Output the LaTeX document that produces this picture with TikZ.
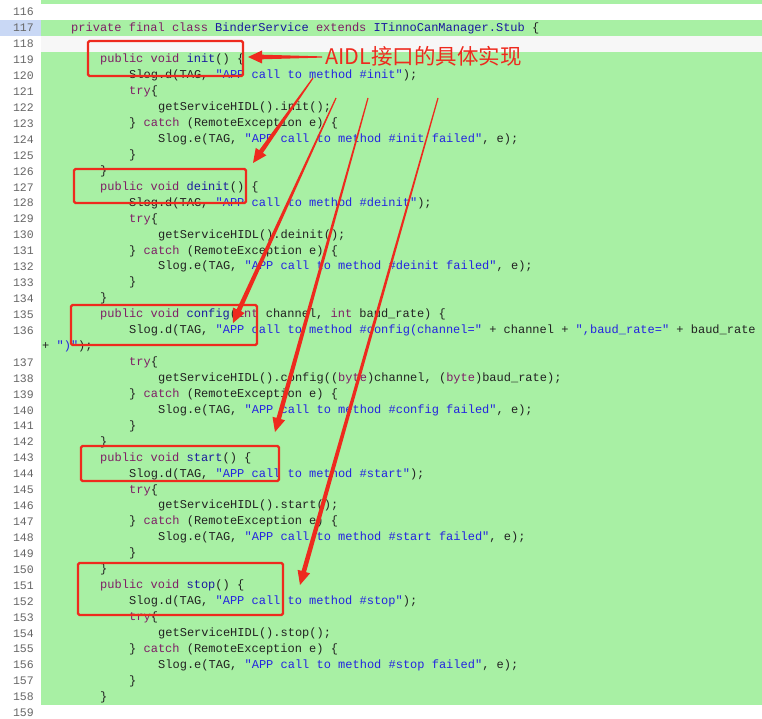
\documentclass[tikz,border=0pt]{standalone}
\usepackage{fontspec}
\setmonofont{Liberation Mono}
\newfontfamily\cjk{Noto Sans CJK SC}
\usetikzlibrary{calc}
\definecolor{kwc}{HTML}{7F1F66}
\definecolor{nmc}{HTML}{1A1A9E}
\definecolor{stc}{HTML}{2424E0}
\definecolor{txc}{HTML}{222222}
\definecolor{grn}{HTML}{A8F0A4}
\definecolor{lnc}{HTML}{666666}
\definecolor{hl}{HTML}{C9D8F5}
\definecolor{rd}{HTML}{EE2A1E}
\newcommand\kw[1]{\textcolor{kwc}{#1}}
\newcommand\nm[1]{\textcolor{nmc}{#1}}
\newcommand\st[1]{\textcolor{stc}{#1}}
\newcommand\rowy[1]{12+#1*15.93}
\tikzset{
 code/.style={anchor=west,inner sep=0pt,font=\ttfamily\fontsize{12}{14}\selectfont,text=txc},
 lnum/.style={anchor=east,inner sep=0pt,font=\ttfamily\fontsize{11.5}{14}\selectfont,text=lnc},
 box/.style={draw=rd,line width=2.2pt,rounded corners=1.5pt},
 arr/.style={fill=rd}
}
% \cl{name}{row}{indent}{text}
\newcommand\cl[4]{\node[code] (c#1) at ({42+#3*7.25},{\rowy{#2}}) {#4};}
\newcommand\lno[2]{\node[lnum] (n#1) at (34,{\rowy{#2}}) {#1};}
\newcommand\taper[2]{%
 \coordinate (tc) at ($(#2)!14pt!(#1)$);
 \fill[arr] ($(#1)!0.6pt!90:(#2)$) -- ($(#1)!0.6pt!-90:(#2)$) -- ($(tc)!2.3pt!-90:(#2)$) -- ($(tc)!6.5pt!-90:(#2)$) -- (#2) -- ($(tc)!6.5pt!90:(#2)$) -- ($(tc)!2.3pt!90:(#2)$) -- cycle;}
\begin{document}
\begin{tikzpicture}[x=1pt,y=-1pt]
\useasboundingbox (0,0) rectangle (762,719);
\fill[white] (0,0) rectangle (762,719);
\fill[grn] (41,0) rectangle (762,4);
\fill[grn] (41,{\rowy{1}-8}) rectangle (762,{\rowy{1}+8});
\fill[hl] (0,{\rowy{1}-8}) rectangle (41,{\rowy{1}+8});
\fill[black!3] (41,{\rowy{2}-8}) rectangle (762,{\rowy{2}+8});
\fill[grn] (41,{\rowy{3}-8}) rectangle (762,{\rowy{43}+8});
% line numbers
\foreach \n in {116,...,136} {\pgfmathtruncatemacro\r{\n-116}\lno{\n}{\r}}
\foreach \n in {137,...,159} {\pgfmathtruncatemacro\r{\n-115}\lno{\n}{\r}}
% code
\cl{117}{1}{4}{\kw{private final class} \nm{BinderService} \kw{extends} \nm{ITinnoCanManager.Stub} \{}
\cl{119}{3}{8}{\kw{public void} \nm{init}() \{}
\cl{120}{4}{12}{Slog.d(TAG, \st{"APP call to method \#init"});}
\cl{121}{5}{12}{\kw{try}\{}
\cl{122}{6}{16}{getServiceHIDL().init();}
\cl{123}{7}{12}{\} \kw{catch} (RemoteException e) \{}
\cl{124}{8}{16}{Slog.e(TAG, \st{"APP call to method \#init failed"}, e);}
\cl{125}{9}{12}{\}}
\cl{126}{10}{8}{\}}
\cl{127}{11}{8}{\kw{public void} \nm{deinit}() \{}
\cl{128}{12}{12}{Slog.d(TAG, \st{"APP call to method \#deinit"});}
\cl{129}{13}{12}{\kw{try}\{}
\cl{130}{14}{16}{getServiceHIDL().deinit();}
\cl{131}{15}{12}{\} \kw{catch} (RemoteException e) \{}
\cl{132}{16}{16}{Slog.e(TAG, \st{"APP call to method \#deinit failed"}, e);}
\cl{133}{17}{12}{\}}
\cl{134}{18}{8}{\}}
\cl{135}{19}{8}{\kw{public void} \nm{config}(\kw{int} channel, \kw{int} baud\_rate) \{}
\cl{136}{20}{12}{Slog.d(TAG, \st{"APP call to method \#config(channel="} + channel + \st{",baud\_rate="} + baud\_rate}
\cl{136w}{21}{0}{+ \st{")"});}
\cl{137}{22}{12}{\kw{try}\{}
\cl{138}{23}{16}{getServiceHIDL().config((\kw{byte})channel, (\kw{byte})baud\_rate);}
\cl{139}{24}{12}{\} \kw{catch} (RemoteException e) \{}
\cl{140}{25}{16}{Slog.e(TAG, \st{"APP call to method \#config failed"}, e);}
\cl{141}{26}{12}{\}}
\cl{142}{27}{8}{\}}
\cl{143}{28}{8}{\kw{public void} \nm{start}() \{}
\cl{144}{29}{12}{Slog.d(TAG, \st{"APP call to method \#start"});}
\cl{145}{30}{12}{\kw{try}\{}
\cl{146}{31}{16}{getServiceHIDL().start();}
\cl{147}{32}{12}{\} \kw{catch} (RemoteException e) \{}
\cl{148}{33}{16}{Slog.e(TAG, \st{"APP call to method \#start failed"}, e);}
\cl{149}{34}{12}{\}}
\cl{150}{35}{8}{\}}
\cl{151}{36}{8}{\kw{public void} \nm{stop}() \{}
\cl{152}{37}{12}{Slog.d(TAG, \st{"APP call to method \#stop"});}
\cl{153}{38}{12}{\kw{try}\{}
\cl{154}{39}{16}{getServiceHIDL().stop();}
\cl{155}{40}{12}{\} \kw{catch} (RemoteException e) \{}
\cl{156}{41}{16}{Slog.e(TAG, \st{"APP call to method \#stop failed"}, e);}
\cl{157}{42}{12}{\}}
\cl{158}{43}{8}{\}}
% red boxes
\draw[box] (88,41) rectangle (243,76);
\draw[box] (74,169) rectangle (246,203);
\draw[box] (71,305) rectangle (257,345);
\draw[box] (81,446) rectangle (279,481);
\draw[box] (78,563) rectangle (283,615);
% label
\node[inner sep=0pt,anchor=west,text=rd,font=\cjk\fontsize{21.5}{24}\selectfont] (lab) at (325,56) {AIDL接口的具体实现};
% arrows
\coordinate (s0) at (322,57); \coordinate (t0) at (248,57);
\coordinate (s1) at (313,78); \coordinate (t1) at (253,163);
\coordinate (s2) at (336,98); \coordinate (t2) at (233,323);
\coordinate (s3) at (368,98); \coordinate (t3) at (275,432);
\coordinate (s4) at (438,98); \coordinate (t4) at (300,585);
\taper{s0}{t0}
\taper{s1}{t1}
\taper{s2}{t2}
\taper{s3}{t3}
\taper{s4}{t4}
\end{tikzpicture}
\end{document}
